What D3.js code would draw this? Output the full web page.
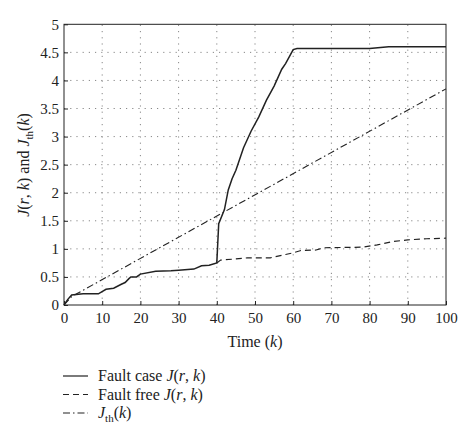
<!DOCTYPE html>
<html>
<head>
<meta charset="utf-8">
<script src="https://cdn.jsdelivr.net/npm/d3@7"></script>
<style>
body { margin: 0; background: #fff; }
text { font-family: "Liberation Serif", "DejaVu Serif", serif; fill: #222; }
</style>
</head>
<body>
<div id="chart"></div>
<script>
// shared part (0..40) then diverging
var sharedK = [0, 1, 2, 5, 9, 11, 13, 15, 16, 17, 17.5, 19, 20, 24, 28, 30, 34, 36, 38, 40];
var sharedJ = [0, 0.1, 0.18, 0.2, 0.2, 0.28, 0.3, 0.37, 0.4, 0.47, 0.5, 0.5, 0.55, 0.6, 0.61, 0.62, 0.64, 0.7, 0.71, 0.75];
var faultK = [40.5, 42, 43, 44, 45, 47, 49, 51, 53, 55, 57, 58, 60, 61, 80, 85, 100];
var faultJ = [1.45, 1.7, 2.05, 2.25, 2.4, 2.8, 3.1, 3.35, 3.65, 3.9, 4.2, 4.3, 4.55, 4.57, 4.57, 4.6, 4.6];
var freeK = [41, 45, 48, 54, 58, 60, 62, 66, 68, 78, 82, 86, 90, 95, 100];
var freeJ = [0.8, 0.82, 0.84, 0.84, 0.9, 0.93, 0.97, 0.98, 1.02, 1.03, 1.07, 1.13, 1.16, 1.18, 1.19];
var thK = [0, 2, 100];
var thJ = [0, 0.15, 3.85];
var xTicks = [0, 10, 20, 30, 40, 50, 60, 70, 80, 90, 100];
var yTicks = [0, 0.5, 1, 1.5, 2, 2.5, 3, 3.5, 4, 4.5, 5];

function pts(ks, js) { return ks.map(function(k, i) { return [k, js[i]]; }); }

var svg = d3.select("#chart").append("svg").attr("width", 474).attr("height", 441);
var x = d3.scaleLinear().domain([0, 100]).range([64, 446]);
var y = d3.scaleLinear().domain([0, 5]).range([305, 24.3]);

// grid
svg.append("g").selectAll("line").data(xTicks.slice(1, -1)).enter().append("line")
	.attr("x1", x).attr("x2", x).attr("y1", y(0)).attr("y2", y(5))
	.attr("stroke", "#888").attr("stroke-dasharray", "1.2,5");
svg.append("g").selectAll("line").data(yTicks.slice(1, -1)).enter().append("line")
	.attr("y1", y).attr("y2", y).attr("x1", x(0)).attr("x2", x(100))
	.attr("stroke", "#888").attr("stroke-dasharray", "1.2,5");

// frame
svg.append("rect").attr("x", x(0)).attr("y", y(5)).attr("width", x(100) - x(0)).attr("height", y(0) - y(5))
	.attr("fill", "none").attr("stroke", "#222");

var xAxis = svg.append("g").attr("transform", "translate(0," + y(0) + ")")
	.call(d3.axisBottom(x).tickValues(xTicks).tickSize(-4).tickPadding(7));
var yAxis = svg.append("g").attr("transform", "translate(" + x(0) + ",0)")
	.call(d3.axisLeft(y).tickValues(yTicks).tickSize(-4).tickPadding(5).tickFormat(d3.format("")));
[xAxis, yAxis].forEach(function(a) {
	a.select(".domain").remove();
	a.selectAll("line").attr("stroke", "#222");
	a.selectAll("text").style("font-size", "15px").attr("fill", "#222");
});

var line = d3.line().x(function(d) { return x(d[0]); }).y(function(d) { return y(d[1]); });
var shared = pts(sharedK, sharedJ);
var last = shared[shared.length - 1];
svg.append("path").datum([last].concat(pts(freeK, freeJ))).attr("d", line)
	.attr("fill", "none").attr("stroke", "#222").attr("stroke-width", 1.2).attr("stroke-dasharray", "6,4");
svg.append("path").datum(shared.concat(pts(faultK, faultJ))).attr("d", line)
	.attr("fill", "none").attr("stroke", "#222").attr("stroke-width", 1.5);
svg.append("path").datum(pts(thK, thJ)).attr("d", line)
	.attr("fill", "none").attr("stroke", "#222").attr("stroke-width", 1.1).attr("stroke-dasharray", "7,3,1.5,3");

// axis titles
svg.append("text").attr("x", 255).attr("y", 347).attr("text-anchor", "middle").style("font-size", "16px")
	.html('Time (<tspan font-style="italic">k</tspan>)');
svg.append("text").attr("transform", "translate(29,165) rotate(-90)").attr("text-anchor", "middle").style("font-size", "16px")
	.html('<tspan font-style="italic">J</tspan>(<tspan font-style="italic">r</tspan>, <tspan font-style="italic">k</tspan>) and <tspan font-style="italic">J</tspan><tspan font-size="11px" dy="4">th</tspan><tspan dy="-4">(</tspan><tspan font-style="italic">k</tspan>)');

// legend
var legDash = [null, "6,4", "7,3,1.5,3"];
var legText = [
	'Fault case <tspan font-style="italic">J</tspan>(<tspan font-style="italic">r</tspan>, <tspan font-style="italic">k</tspan>)',
	'Fault free <tspan font-style="italic">J</tspan>(<tspan font-style="italic">r</tspan>, <tspan font-style="italic">k</tspan>)',
	'<tspan font-style="italic">J</tspan><tspan font-size="11px" dy="4">th</tspan><tspan dy="-4">(</tspan><tspan font-style="italic">k</tspan>)'
];
legText.forEach(function(t, i) {
	var ly = 376 + i * 18.5;
	svg.append("line").attr("x1", 63).attr("x2", 88).attr("y1", ly).attr("y2", ly)
		.attr("stroke", "#222").attr("stroke-width", 1.2).attr("stroke-dasharray", legDash[i]);
	svg.append("text").attr("x", 98).attr("y", ly + 5).style("font-size", "16px").html(t);
});
</script>
</body>
</html>
